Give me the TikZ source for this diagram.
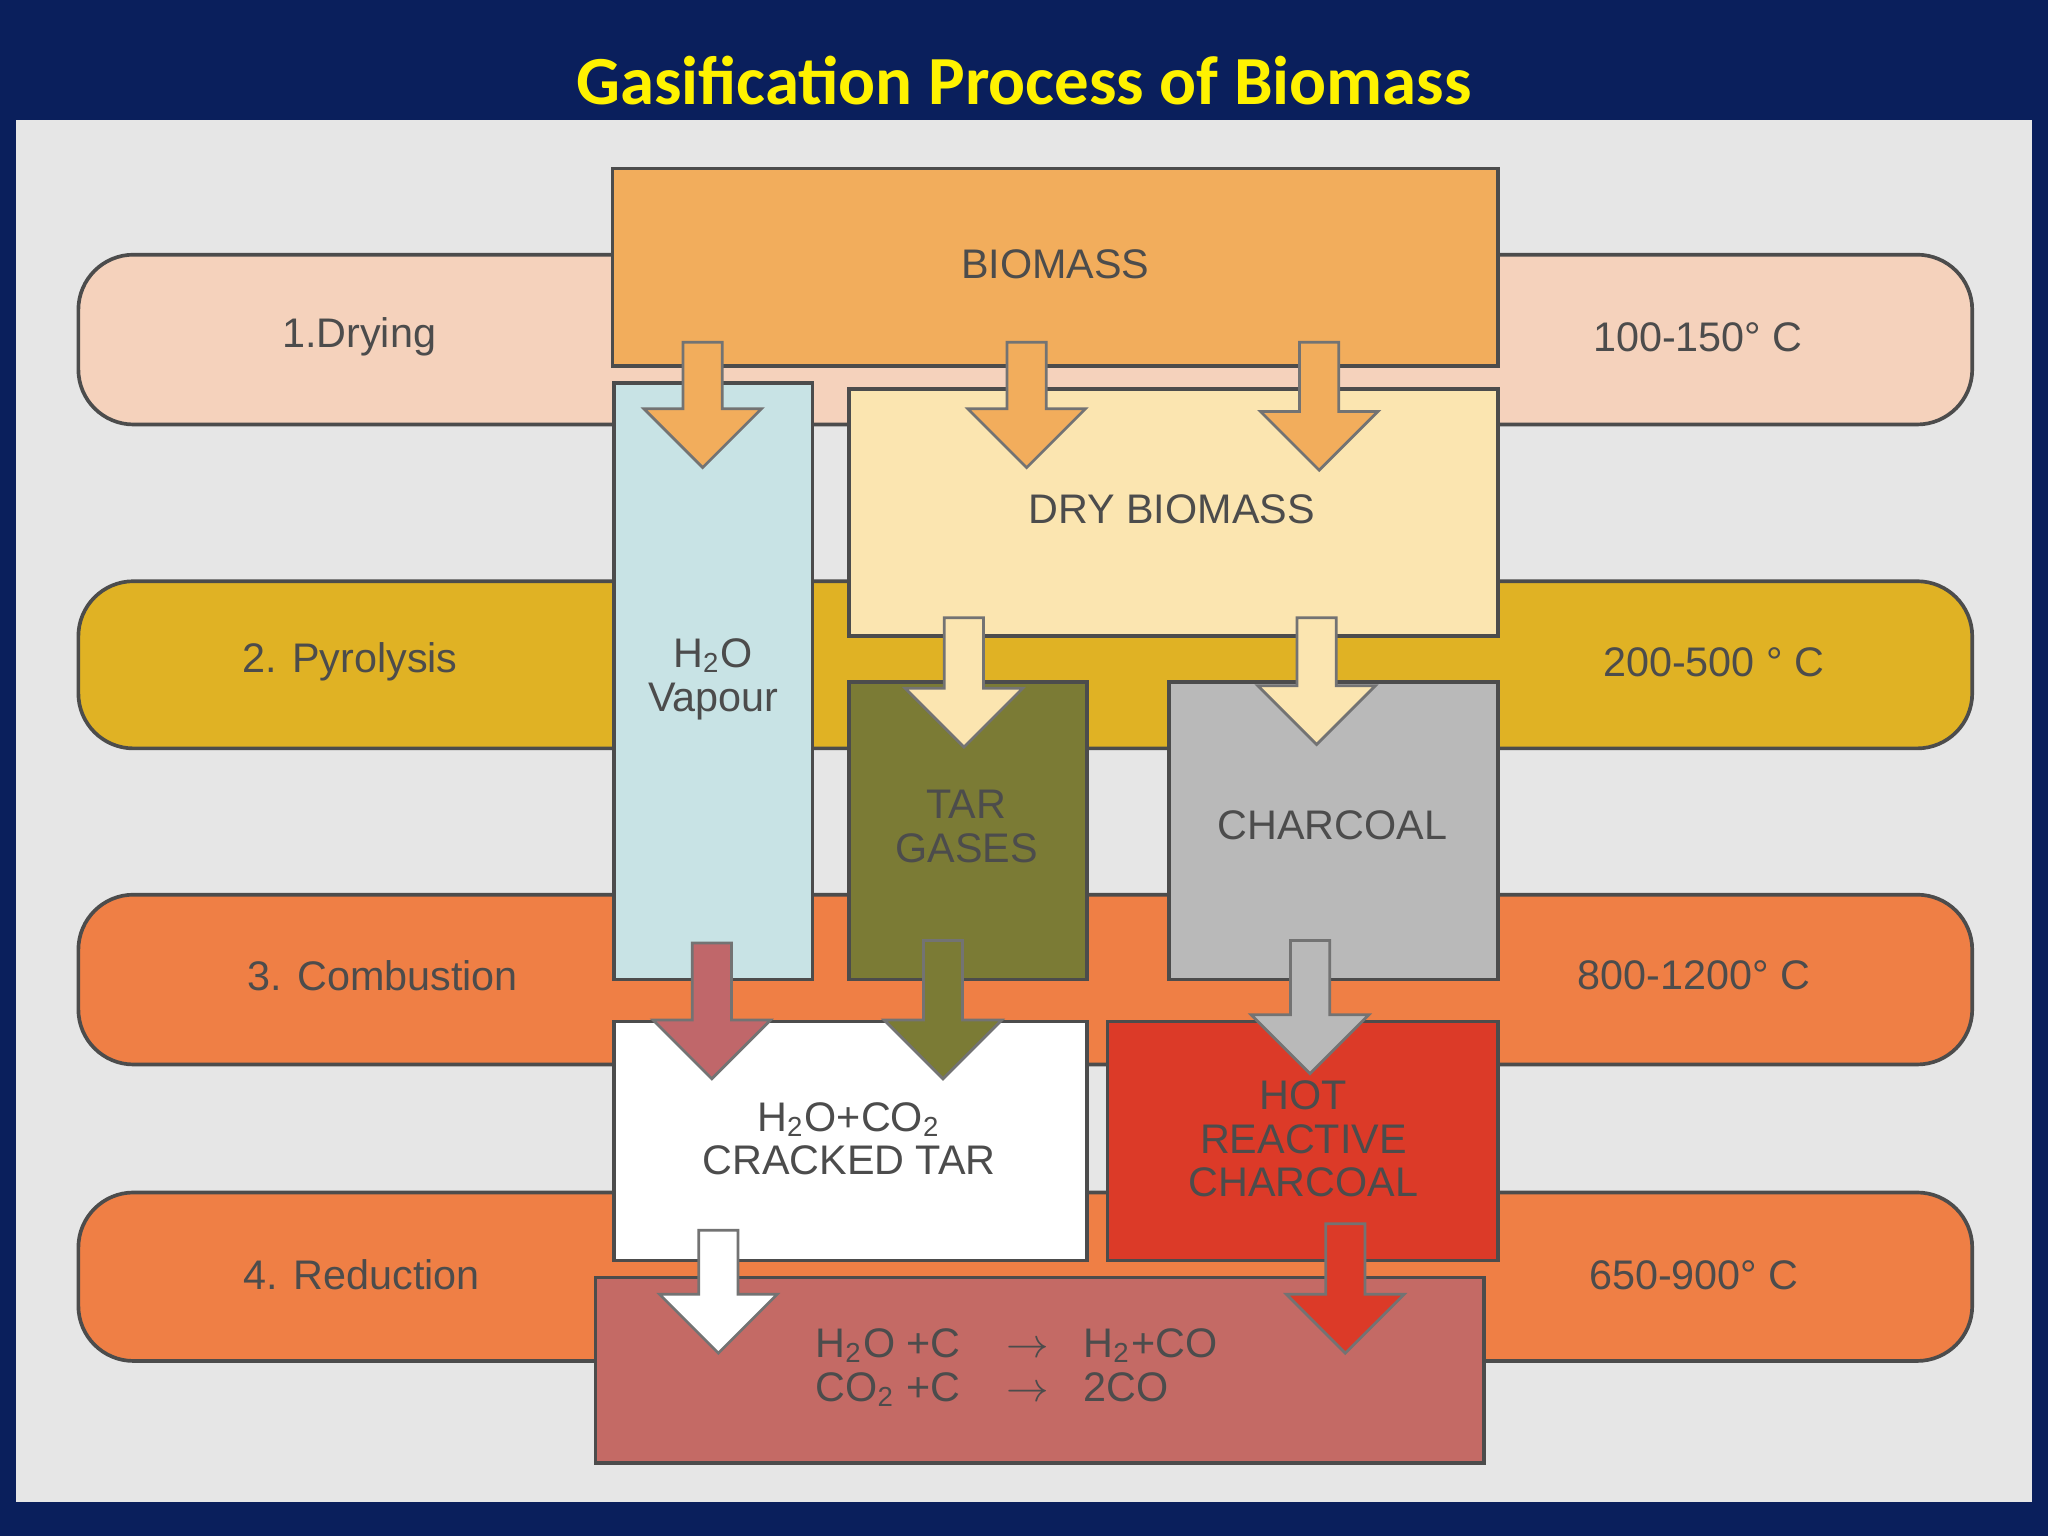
\documentclass[tikz,border=0pt]{standalone}
\usepackage{fontspec}
\setmainfont{Liberation Sans}
\newfontfamily\titlefont{Carlito}
\begin{document}
\begin{tikzpicture}[x=0.01cm,y=-0.01cm,
  box/.style={draw=black!70,line width=0.8pt},
  band/.style={draw=black!70,line width=0.8pt,rounded corners=12},
  lab/.style={text=black!70,font=\fontsize{9}{10}\selectfont},
  blab/.style={text=black!70,font=\fontsize{9}{9.5}\selectfont,align=center}]
\def\blockarrow#1#2#3#4{\draw[fill=#4,draw=black!55,line width=0.6pt] (#1-15,#2) -- (#1+15,#2) -- (#1+15,#3-45) -- (#1+45,#3-45) -- (#1,#3) -- (#1-45,#3-45) -- (#1-15,#3-45) -- cycle;}
\def\sb#1{\textsubscript{#1}}
\definecolor{navy}{HTML}{0A1F5C}
\definecolor{panel}{HTML}{E6E6E6}
\definecolor{peach}{HTML}{F5D2BC}
\definecolor{gold}{HTML}{E0B224}
\definecolor{orng}{HTML}{EF7F45}
\definecolor{bio}{HTML}{F2AD5C}
\definecolor{vap}{HTML}{C8E3E5}
\definecolor{dry}{HTML}{FBE5B0}
\definecolor{tar}{HTML}{7B7B35}
\definecolor{char}{HTML}{B9B9B9}
\definecolor{hot}{HTML}{DC3A28}
\definecolor{red2}{HTML}{C46A65}
\definecolor{vapar}{HTML}{C0676A}
\fill[navy] (0,0) rectangle (1568,1176);
\node[text=yellow,font=\titlefont\bfseries\fontsize{15}{18}\selectfont] (title) at (784,62) {Gasification Process of Biomass};
\fill[panel] (12,92) rectangle (1556,1150);
% bands
\draw[band,fill=peach] (60,195) rectangle (1510,325);
\draw[band,fill=gold] (60,445) rectangle (1510,573);
\draw[band,fill=orng] (60,685) rectangle (1510,815);
\draw[band,fill=orng] (60,913) rectangle (1510,1042);
\node[lab] (l1) at (275,258) {1.Drying};
\node[lab] (l2) at (268,507) {2. Pyrolysis};
\node[lab] (l3) at (293,747) {3. Combustion};
\node[lab] (l4) at (277,976) {4. Reduction};
\node[lab] (r1) at (1300,258) {100-150° C};
\node[lab] (r2) at (1312,507) {200-500 ° C};
\node[lab] (r3) at (1297,747) {800-1200° C};
\node[lab] (r4) at (1297,976) {650-900° C};
% boxes
\draw[box,fill=bio] (469,129) rectangle (1147,280);
\node[blab] (biomass) at (808,202) {BIOMASS};
\draw[box,fill=vap] (470,293) rectangle (622,750);
\node[blab] (vapour) at (546,520) {H\sb{2}O\\Vapour};
\draw[box,fill=dry] (650,298) rectangle (1147,487);
\node[blab] (drybio) at (897,390) {DRY BIOMASS};
\draw[box,fill=tar] (650,522) rectangle (832,750);
\node[blab] (targ) at (740,633) {TAR\\GASES};
\draw[box,fill=char] (895,522) rectangle (1147,750);
\node[blab] (charcoal) at (1020,632) {CHARCOAL};
\draw[box,fill=white] (470,782) rectangle (832,965);
\node[blab] (cracked) at (650,872) {H\sb{2}O+CO\sb{2}\\CRACKED TAR};
\draw[box,fill=hot] (848,782) rectangle (1147,965);
\node[blab] (hotc) at (998,872) {HOT\\REACTIVE\\CHARCOAL};
\draw[box,fill=red2] (456,978) rectangle (1136,1120);
\node[lab,anchor=west] (re1) at (612,1030) {H\sb{2}O +C \ \ \ $\rightarrow$ \ \ H\sb{2}+CO};
\node[lab,anchor=west] (re2) at (612,1064) {CO\sb{2} +C \ \ \ $\rightarrow$ \ \ 2CO};
% arrows
\blockarrow{538}{262}{358}{bio}
\blockarrow{786}{262}{358}{bio}
\blockarrow{1010}{262}{360}{bio}
\blockarrow{738}{473}{572}{dry}
\blockarrow{1008}{473}{570}{dry}
\blockarrow{545}{722}{826}{vapar}
\blockarrow{722}{720}{826}{tar}
\blockarrow{1003}{720}{822}{char}
\blockarrow{550}{942}{1036}{white}
\blockarrow{1030}{937}{1036}{hot}
\end{tikzpicture}
\end{document}
